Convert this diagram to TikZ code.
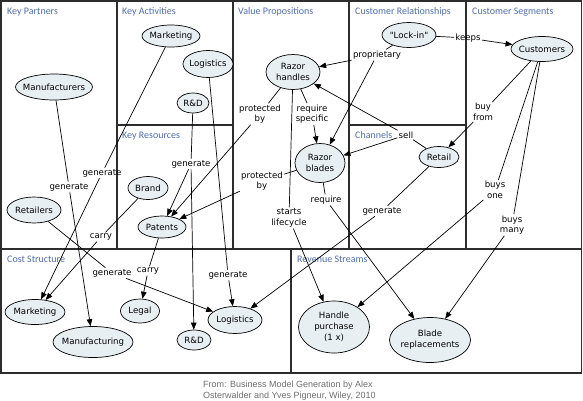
\documentclass[tikz,border=0pt]{standalone}
\usepackage{fontspec}
\setmainfont{DejaVu Sans}[Ligatures=TeXOff]
\newfontfamily\titlefont{Carlito}
\newfontfamily\capfont{Liberation Sans}
\usetikzlibrary{shapes.geometric,arrows.meta}
\definecolor{conceptfill}{RGB}{232,239,243}
\definecolor{titleblue}{RGB}{79,110,170}
\definecolor{framegray}{RGB}{45,45,45}
\definecolor{capgray}{RGB}{110,110,110}
\begin{document}
\begin{tikzpicture}[x=1pt,y=-1pt,
  concept/.style={ellipse, draw=black, line width=0.7pt, fill=conceptfill, inner xsep=-40pt, inner ysep=-40pt, align=center, font=\fontsize{8.6}{11}\selectfont},
  link/.style={inner sep=1.2pt, align=center, font=\fontsize{8.6}{10.5}\selectfont},
  conn/.style={line width=0.7pt, draw=black},
  arr/.style={conn, -{Triangle[length=7pt,width=5.5pt]}},
  region/.style={line width=1.2pt, draw=framegray},
  title/.style={anchor=base west, inner sep=0pt, text=titleblue, font=\titlefont\fontsize{10}{12}\selectfont},
]
\useasboundingbox (0,0) rectangle (583,400);

% canvas frame
\draw[region] (1,1) rectangle (581.5,373);
\draw[region] (117,1) -- (117,249);
\draw[region] (233,1) -- (233,249);
\draw[region] (349,1) -- (349,249);
\draw[region] (466,1) -- (466,249);
\draw[region] (117,125) -- (233,125);
\draw[region] (349,125) -- (466,125);
\draw[region] (1,249) -- (581.5,249);
\draw[region] (291,249) -- (291,373);

% section titles
\node[title] (tKP) at (7,14) {Key Partners};
\node[title] (tKA) at (122,14) {Key Activities};
\node[title] (tVP) at (238,14) {Value Propositions};
\node[title] (tCR) at (355,14) {Customer Relationships};
\node[title] (tCS) at (472,14) {Customer Segments};
\node[title] (tKR) at (122,138.5) {Key Resources};
\node[title] (tCh) at (355,138.5) {Channels};
\node[title] (tCo) at (7,262.5) {Cost Structure};
\node[title] (tRS) at (297,262.5) {Revenue Streams};

% concepts
\node[concept, minimum width=58pt, minimum height=22pt] (mkA) at (171,36) {Marketing};
\node[concept, minimum width=50pt, minimum height=27pt] (logA) at (208,64) {Logistics};
\node[concept, minimum width=32pt, minimum height=20pt] (rdA) at (193,103) {R\&D};
\node[concept, minimum width=77pt, minimum height=26pt] (manuf) at (54,87) {Manufacturers};
\node[concept, minimum width=54pt, minimum height=35pt] (rh) at (293,72) {Razor\\handles};
\node[concept, minimum width=54pt, minimum height=25pt] (lock) at (409,35) {"Lock-in"};
\node[concept, minimum width=62pt, minimum height=25pt] (cust) at (542,49) {Customers};
\node[concept, minimum width=50pt, minimum height=39pt] (rb) at (320,163) {Razor\\blades};
\node[concept, minimum width=40pt, minimum height=21pt] (retail) at (439,157) {Retail};
\node[concept, minimum width=40pt, minimum height=23pt] (brand) at (148,188) {Brand};
\node[concept, minimum width=48pt, minimum height=22pt] (patents) at (162,227) {Patents};
\node[concept, minimum width=54pt, minimum height=26pt] (retailers) at (34,210) {Retailers};
\node[concept, minimum width=60pt, minimum height=25pt] (mkC) at (35,312) {Marketing};
\node[concept, minimum width=80pt, minimum height=31pt] (mfg) at (93,342) {Manufacturing};
\node[concept, minimum width=39pt, minimum height=24pt] (legal) at (140,311) {Legal};
\node[concept, minimum width=34pt, minimum height=20pt] (rdC) at (194,340) {R\&D};
\node[concept, minimum width=54pt, minimum height=27pt] (logC) at (235,320) {Logistics};
\node[concept, minimum width=71pt, minimum height=52pt] (hp) at (334,327) {Handle\\purchase\\(1 x)};
\node[concept, minimum width=81pt, minimum height=45pt] (br) at (430,340) {Blade\\replacements};

% linking phrases
\node[link] (keeps) at (468,38) {keeps};
\node[link] (propr) at (377,55) {proprietary};
\node[link] (protH) at (260,114) {protected\\by};
\node[link] (reqS) at (312,114) {require\\specific};
\node[link] (starts) at (289,218) {starts\\lifecycle};
\node[link] (protB) at (262,181) {protected\\by};
\node[link] (req) at (326,200) {require};
\node[link] (sell) at (406,135) {sell};
\node[link] (buyfrom) at (483,112) {buy\\from};
\node[link] (buysone) at (495,190) {buys\\one};
\node[link] (buysmany) at (512,225) {buys\\many};
\node[link] (genCh) at (382,211) {generate};
\node[link] (genMk) at (102,173) {generate};
\node[link] (genMf) at (69,187) {generate};
\node[link] (carryB) at (101,237) {carry};
\node[link] (genRet) at (112,273) {generate};
\node[link] (carryP) at (148,271) {carry};
\node[link] (genLog) at (228,275) {generate};
\node[link] (genRD) at (191,164) {generate};

% connectors
\draw[conn] (lock) -- (keeps);  \draw[arr] (keeps) -- (cust);
\draw[conn] (lock) -- (propr);  \draw[arr] (propr) -- (rh);  \draw[arr] (propr) -- (rb);
\draw[conn] (rh) -- (protH);    \draw[arr] (protH) -- (patents);
\draw[conn] (rh) -- (reqS);     \draw[arr] (reqS) -- (rb);
\draw[conn] (rh) -- (starts);   \draw[arr] (starts) -- (hp);
\draw[conn] (rb) -- (protB);    \draw[arr] (protB) -- (patents);
\draw[conn] (rb) -- (req);      \draw[arr] (req) -- (br);
\draw[conn] (retail) -- (sell); \draw[arr] (sell) -- (rh);   \draw[arr] (sell) -- (rb);
\draw[conn] (cust) -- (buyfrom);  \draw[arr] (buyfrom) -- (retail);
\draw[conn] (cust) -- (buysone);  \draw[arr] (buysone) -- (hp);
\draw[conn] (cust) -- (buysmany); \draw[arr] (buysmany) -- (br);
\draw[conn] (retail) -- (genCh);  \draw[arr] (genCh) -- (logC);
\draw[conn] (mkA) -- (genMk);     \draw[arr] (genMk) -- (mkC);
\draw[conn] (manuf) -- (genMf);   \draw[arr] (genMf) -- (mfg);
\draw[conn] (brand) -- (carryB);  \draw[arr] (carryB) -- (mkC);
\draw[conn] (retailers) -- (genRet); \draw[arr] (genRet) -- (logC);
\draw[conn] (patents) -- (carryP);   \draw[arr] (carryP) -- (legal);
\draw[conn] (logA) -- (genLog);      \draw[arr] (genLog) -- (logC);
\draw[conn] (rdA) -- (genRD);        \draw[arr] (genRD) -- (patents); \draw[arr] (genRD) -- (rdC);

% source note
\node[anchor=north west, inner sep=0pt, align=left, text=capgray, font=\capfont\fontsize{9}{11}\selectfont] (cap) at (203,380.5) {From: Business Model Generation by Alex\\Osterwalder and Yves Pigneur, Wiley, 2010};
\end{tikzpicture}
\end{document}
